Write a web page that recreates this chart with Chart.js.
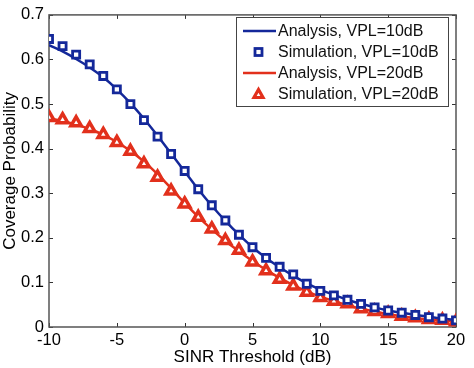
<!DOCTYPE html>
<html>
<head>
<meta charset="utf-8">
<script src="https://cdn.jsdelivr.net/npm/chart.js@4/dist/chart.umd.min.js"></script>
<style>
  html, body { margin:0; padding:0; background:#fff; }
  #wrap { width:474px; height:368px; position:relative; }
</style>
</head>
<body>
<div id="wrap"><canvas id="c" width="474" height="368"></canvas></div>
<script>
const sinr = [-10,-9,-8,-7,-6,-5,-4,-3,-2,-1,0,1,2,3,4,5,6,7,8,9,10,11,12,13,14,15,16,17,18,19,20];
const anaVpl10 = [0.632,0.618,0.601,0.582,0.560,0.533,0.502,0.467,0.429,0.389,0.349,0.309,0.272,0.238,0.207,0.179,0.155,0.134,0.115,0.098,0.084,0.072,0.061,0.052,0.044,0.037,0.032,0.027,0.023,0.019,0.016];
const simVpl10 = [0.646,0.630,0.611,0.589,0.563,0.533,0.500,0.464,0.427,0.388,0.350,0.309,0.273,0.239,0.207,0.179,0.155,0.135,0.118,0.097,0.081,0.071,0.061,0.052,0.044,0.037,0.032,0.027,0.022,0.019,0.015];
const anaVpl20 = [0.468,0.462,0.454,0.444,0.431,0.415,0.395,0.371,0.343,0.311,0.278,0.247,0.219,0.193,0.170,0.148,0.128,0.110,0.094,0.080,0.068,0.058,0.049,0.041,0.035,0.029,0.024,0.020,0.017,0.014,0.012];
const simVpl20 = [0.470,0.465,0.458,0.445,0.432,0.414,0.394,0.366,0.336,0.305,0.276,0.246,0.220,0.194,0.172,0.146,0.126,0.107,0.092,0.078,0.066,0.058,0.052,0.041,0.035,0.030,0.024,0.021,0.017,0.015,0.012];
const xTicks = [-10,-5,0,5,10,15,20];
const yTicks = [0,0.1,0.2,0.3,0.4,0.5,0.6,0.7];
const labels = ["Analysis, VPL=10dB","Simulation, VPL=10dB","Analysis, VPL=20dB","Simulation, VPL=20dB"];

const BLUE = "#14289a";
const RED = "#e2301c";
const FONT = "'Liberation Sans', Arial, sans-serif";

const pts = (ys) => sinr.map((x,i)=>({x:x, y:ys[i]}));

// frame + inward ticks (matlab style)
const framePlugin = {
  id:"frame",
  beforeDatasetsDraw(chart){
    const {ctx, chartArea:a, scales} = chart;
    ctx.save();
    ctx.strokeStyle = "#333";
    ctx.lineWidth = 1;
    ctx.beginPath();
    xTicks.forEach(v=>{
      const px = Math.round(scales.x.getPixelForValue(v))+0.5;
      ctx.moveTo(px,a.bottom); ctx.lineTo(px,a.bottom-4);
      ctx.moveTo(px,a.top); ctx.lineTo(px,a.top+4);
    });
    yTicks.forEach(v=>{
      const py = Math.round(scales.y.getPixelForValue(v))+0.5;
      ctx.moveTo(a.left,py); ctx.lineTo(a.left+4,py);
      ctx.moveTo(a.right,py); ctx.lineTo(a.right-4,py);
    });
    ctx.stroke();
    ctx.strokeStyle = "#555";
    ctx.lineWidth = 1.5;
    ctx.strokeRect(a.left, a.top, a.right-a.left, a.bottom-a.top);
    ctx.restore();
  }
};

const legendPlugin = {
  id:"boxLegend",
  afterDraw(chart){
    const ctx = chart.ctx;
    const bx = 236, by = 17, bw = 212, bh = 89;
    ctx.save();
    ctx.fillStyle = "#fff";
    ctx.fillRect(bx,by,bw,bh);
    ctx.strokeStyle = "#444";
    ctx.lineWidth = 1;
    ctx.strokeRect(bx+0.5,by+0.5,bw,bh);
    ctx.font = "16px " + FONT;
    ctx.textBaseline = "middle";
    const rows = [31,52,73,94];
    rows.forEach((y,i)=>{
      ctx.fillStyle = "#111";
      ctx.fillText(labels[i], 278, y+1);
    });
    // line samples
    ctx.lineWidth = 2.5;
    ctx.strokeStyle = BLUE;
    ctx.beginPath(); ctx.moveTo(243,rows[0]); ctx.lineTo(276,rows[0]); ctx.stroke();
    ctx.strokeStyle = RED;
    ctx.beginPath(); ctx.moveTo(243,rows[2]); ctx.lineTo(276,rows[2]); ctx.stroke();
    // markers
    ctx.lineWidth = 2.8;
    ctx.strokeStyle = BLUE;
    ctx.fillStyle = "#fff";
    ctx.fillRect(255,rows[1]-3.5,7,7);
    ctx.strokeRect(255,rows[1]-3.5,7,7);
    ctx.strokeStyle = RED;
    ctx.lineWidth = 3.2;
    ctx.beginPath();
    ctx.moveTo(258.5,rows[3]-4.5); ctx.lineTo(263,rows[3]+3.5); ctx.lineTo(254,rows[3]+3.5); ctx.closePath();
    ctx.fill(); ctx.stroke();
    ctx.restore();
  }
};

new Chart(document.getElementById("c"), {
  type:"line",
  data:{
    datasets:[
      {label:labels[0], data:pts(anaVpl10), borderColor:BLUE, borderWidth:2.5, pointRadius:0, tension:0.4, order:2},
      {label:labels[1], data:pts(simVpl10), showLine:false, pointStyle:"rect", pointRadius:5, borderColor:BLUE, backgroundColor:"#fff", pointBorderWidth:2.8, order:1},
      {label:labels[2], data:pts(anaVpl20), borderColor:RED, borderWidth:2.5, pointRadius:0, tension:0.4, order:2},
      {label:labels[3], data:pts(simVpl20), showLine:false, pointStyle:"triangle", pointRadius:6, borderColor:RED, backgroundColor:"#fff", pointBorderWidth:3.5, order:1}
    ]
  },
  options:{
    responsive:false,
    animation:false,
    devicePixelRatio:1,
    layout:{padding:{top:11, right:18, left:0, bottom:0}},
    plugins:{legend:{display:false}, tooltip:{enabled:false}},
    scales:{
      x:{
        type:"linear", min:-10, max:20,
        afterBuildTicks(s){ s.ticks = xTicks.map(v=>({value:v})); },
        afterFit(s){ s.height = 41; },
        grid:{display:false, drawTicks:false}, border:{display:false},
        ticks:{color:"#000", font:{family:FONT, size:16.5}, padding:4, maxRotation:0},
        title:{display:true, text:"SINR Threshold (dB)", color:"#000", font:{family:FONT, size:17}, padding:{top:0,bottom:0}}
      },
      y:{
        type:"linear", min:0, max:0.7,
        afterBuildTicks(s){ s.ticks = yTicks.map(v=>({value:v})); },
        afterFit(s){ s.width = 49; },
        grid:{display:false, drawTicks:false}, border:{display:false},
        ticks:{color:"#000", font:{family:FONT, size:16.5}, padding:5,
          callback:(v)=> v===0 ? "0" : v.toFixed(1)},
        title:{display:true, text:"Coverage Probability", color:"#000", font:{family:FONT, size:17}, padding:{top:0,bottom:0}}
      }
    }
  },
  plugins:[framePlugin, legendPlugin]
});
</script>
</body>
</html>
